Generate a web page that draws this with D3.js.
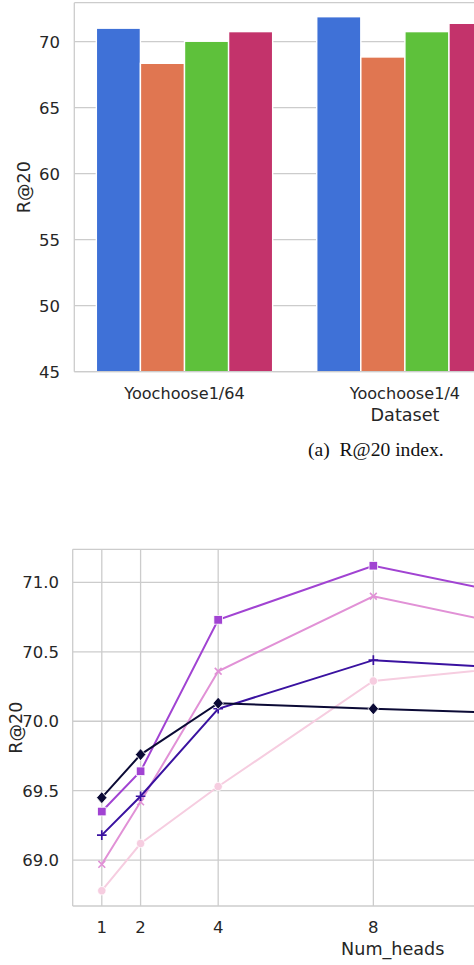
<!DOCTYPE html>
<html>
<head>
<meta charset="utf-8">
<script src="https://cdn.jsdelivr.net/npm/d3@7/dist/d3.min.js"></script>
<style>
  html, body { margin: 0; padding: 0; background: #fff; }
  svg { display: block; overflow: hidden; }
</style>
</head>
<body>
<script>
// ---- data: bar chart (R@20 per dataset) ----
var datasets = ["Yoochoose1/64", "Yoochoose1/4"];
var barSeries = ["blue", "orange", "green", "magenta"];
var barBlue    = [71.02, 71.89];
var barOrange  = [68.36, 68.84];
var barGreen   = [70.03, 70.76];
var barMagenta = [70.76, 71.39];
var barTicks = [45, 50, 55, 60, 65, 70];

// ---- data: line chart (R@20 vs Num_heads) ----
var numHeads = [1, 2, 4, 8, 16];
var lineSquare  = [69.35, 69.64, 70.73, 71.12, 70.66];
var lineCross   = [68.97, 69.42, 70.36, 70.90, 70.43];
var linePlus    = [69.18, 69.46, 70.09, 70.44, 70.31];
var lineCircle  = [68.78, 69.12, 69.53, 70.29, 70.51];
var lineDiamond = [69.45, 69.76, 70.13, 70.09, 70.02];
var lineYTicks = [69.0, 69.5, 70.0, 70.5, 71.0];

var W = 474, H = 965;
var gridColor = "#cccccc", textColor = "#262626";
var sans = "'DejaVu Sans', sans-serif";

var svg = d3.select("body").append("svg")
  .attr("width", W).attr("height", H);

// ================= top: grouped bars =================
var barBox = { left: 74.3, top: 2.7, bottom: 371.7, group: 220.4 };

var y1 = d3.scaleLinear().domain([45, 72.95]).range([barBox.bottom, barBox.top]);
var x1 = d3.scaleBand().domain(datasets)
  .range([barBox.left, barBox.left + datasets.length * barBox.group]);
var xInner = d3.scaleBand().domain(barSeries)
  .range([0.1 * barBox.group, 0.9 * barBox.group]);
var barColour = d3.scaleOrdinal().domain(barSeries)
  .range(["#3f71d7", "#e07651", "#5ec13b", "#c3336b"]);

var g1 = svg.append("g");

// horizontal grid
g1.selectAll(".hgrid").data(barTicks).enter().append("line")
  .attr("x1", barBox.left).attr("x2", W)
  .attr("y1", function(d) { return y1(d); })
  .attr("y2", function(d) { return y1(d); })
  .attr("stroke", gridColor).attr("stroke-width", 1.3);

var barRows = barSeries.map(function(s, i) {
  var vals = [barBlue, barOrange, barGreen, barMagenta][i];
  return datasets.map(function(ds, j) { return { series: s, dataset: ds, value: vals[j] }; });
});
var bars = [].concat.apply([], barRows);

g1.selectAll(".bar").data(bars).enter().append("rect")
  .attr("x", function(d) { return x1(d.dataset) + xInner(d.series); })
  .attr("width", xInner.bandwidth())
  .attr("y", function(d) { return y1(d.value); })
  .attr("height", function(d) { return y1(45) - y1(d.value); })
  .attr("fill", function(d) { return barColour(d.series); })
  .attr("stroke", "#fff").attr("stroke-width", 1.4);

// spines
g1.append("line").attr("x1", barBox.left).attr("x2", barBox.left)
  .attr("y1", barBox.top).attr("y2", barBox.bottom).attr("stroke", gridColor).attr("stroke-width", 1.3);
g1.append("line").attr("x1", barBox.left).attr("x2", W)
  .attr("y1", barBox.top).attr("y2", barBox.top).attr("stroke", gridColor).attr("stroke-width", 1.3);
g1.append("line").attr("x1", barBox.left).attr("x2", W)
  .attr("y1", barBox.bottom).attr("y2", barBox.bottom).attr("stroke", gridColor).attr("stroke-width", 1.3);

// y tick labels
g1.selectAll(".ytick").data(barTicks).enter().append("text")
  .attr("x", 60).attr("y", function(d) { return y1(d); })
  .attr("dy", "0.36em").attr("text-anchor", "end")
  .style("font", "16.5px " + sans).attr("fill", textColor)
  .text(function(d) { return d; });

// x tick labels
g1.selectAll(".xtick").data(datasets).enter().append("text")
  .attr("x", function(d) { return x1(d) + x1.bandwidth() / 2; })
  .attr("y", 398.5).attr("text-anchor", "middle")
  .style("font", "16.1px " + sans).attr("fill", textColor)
  .text(function(d) { return d; });

g1.append("text").attr("x", 405).attr("y", 421)
  .attr("text-anchor", "middle").style("font", "17.6px " + sans)
  .attr("fill", textColor).text("Dataset");

g1.append("text").attr("transform", "translate(29.5," + ((barBox.top + barBox.bottom) / 2) + ") rotate(-90)")
  .attr("text-anchor", "middle").style("font", "17.6px " + sans)
  .attr("fill", textColor).text("R@20");

svg.append("text").attr("x", 308).attr("y", 456)
  .style("font", "19.6px 'Liberation Serif', serif").attr("fill", "#111")
  .attr("xml:space", "preserve").text("(a)  R@20 index.");

// ================= bottom: lines =================
var bot = { left: 72.7, right: 712.8, top: 549.3, bottom: 906 };
var x2 = d3.scaleLinear().domain([0.25, 16.75]).range([bot.left, bot.right]);
var y2 = d3.scaleLinear().domain([68.67, 71.238]).range([bot.bottom, bot.top]);

var g2 = svg.append("g");

g2.selectAll(".vgrid").data(numHeads).enter().append("line")
  .attr("x1", function(d) { return x2(d); }).attr("x2", function(d) { return x2(d); })
  .attr("y1", bot.top).attr("y2", bot.bottom)
  .attr("stroke", gridColor).attr("stroke-width", 1.3);
g2.selectAll(".hgrid").data(lineYTicks).enter().append("line")
  .attr("x1", bot.left).attr("x2", W)
  .attr("y1", function(d) { return y2(d); }).attr("y2", function(d) { return y2(d); })
  .attr("stroke", gridColor).attr("stroke-width", 1.3);

g2.append("line").attr("x1", bot.left).attr("x2", bot.left)
  .attr("y1", bot.top).attr("y2", bot.bottom).attr("stroke", gridColor).attr("stroke-width", 1.3);
g2.append("line").attr("x1", bot.left).attr("x2", W)
  .attr("y1", bot.top).attr("y2", bot.top).attr("stroke", gridColor).attr("stroke-width", 1.3);
g2.append("line").attr("x1", bot.left).attr("x2", W)
  .attr("y1", bot.bottom).attr("y2", bot.bottom).attr("stroke", gridColor).attr("stroke-width", 1.3);

var lines = [
  { name: "circle",  colour: "#f6cde0", values: lineCircle },
  { name: "cross",   colour: "#e191d6", values: lineCross },
  { name: "square",  colour: "#a143d2", values: lineSquare },
  { name: "plus",    colour: "#3a12a0", values: linePlus },
  { name: "diamond", colour: "#0b0a35", values: lineDiamond }
];

var line = d3.line()
  .x(function(d) { return x2(d.h); })
  .y(function(d) { return y2(d.v); });

lines.forEach(function(s) {
  var pts = numHeads.map(function(h, i) { return { h: h, v: s.values[i] }; });
  var grp = g2.append("g");
  grp.append("path").attr("d", line(pts))
    .attr("fill", "none").attr("stroke", s.colour).attr("stroke-width", 2);

  var m = grp.selectAll(".m").data(pts).enter().append("g")
    .attr("transform", function(d) { return "translate(" + x2(d.h) + "," + y2(d.v) + ")"; });

  if (s.name === "circle") {
    m.append("circle").attr("r", 4.2).attr("fill", s.colour).attr("stroke", "#fff").attr("stroke-width", 0.8);
  } else if (s.name === "square") {
    m.append("rect").attr("x", -4.3).attr("y", -4.3).attr("width", 8.6).attr("height", 8.6)
      .attr("fill", s.colour).attr("stroke", "#fff").attr("stroke-width", 0.8);
  } else if (s.name === "diamond") {
    m.append("path").attr("d", "M0,-6L5.2,0L0,6L-5.2,0Z")
      .attr("fill", s.colour).attr("stroke", "#fff").attr("stroke-width", 0.8);
  } else if (s.name === "plus") {
    m.append("path").attr("d", "M-4.8,0H4.8M0,-4.8V4.8")
      .attr("stroke", s.colour).attr("stroke-width", 1.7);
  } else if (s.name === "cross") {
    m.append("path").attr("d", "M-3.4,-3.4L3.4,3.4M-3.4,3.4L3.4,-3.4")
      .attr("stroke", s.colour).attr("stroke-width", 1.6);
  }
});

g2.selectAll(".ytick").data(lineYTicks).enter().append("text")
  .attr("x", 59).attr("y", function(d) { return y2(d); })
  .attr("dy", "0.36em").attr("text-anchor", "end")
  .style("font", "16.5px " + sans).attr("fill", textColor)
  .text(function(d) { return d3.format(".1f")(d); });

// only label the ticks that fall inside the visible page
g2.selectAll(".xtick").data(numHeads.filter(function(d) { return x2(d) < W; }))
  .enter().append("text")
  .attr("x", function(d) { return x2(d); }).attr("y", 933)
  .attr("text-anchor", "middle").style("font", "16.5px " + sans)
  .attr("fill", textColor).text(function(d) { return d; });

g2.append("text").attr("x", (bot.left + bot.right) / 2).attr("y", 955)
  .attr("text-anchor", "middle").style("font", "17.6px " + sans)
  .attr("fill", textColor).text("Num_heads");

g2.append("text").attr("transform", "translate(22," + ((bot.top + bot.bottom) / 2) + ") rotate(-90)")
  .attr("text-anchor", "middle").style("font", "17.6px " + sans)
  .attr("fill", textColor).text("R@20");
</script>
</body>
</html>
